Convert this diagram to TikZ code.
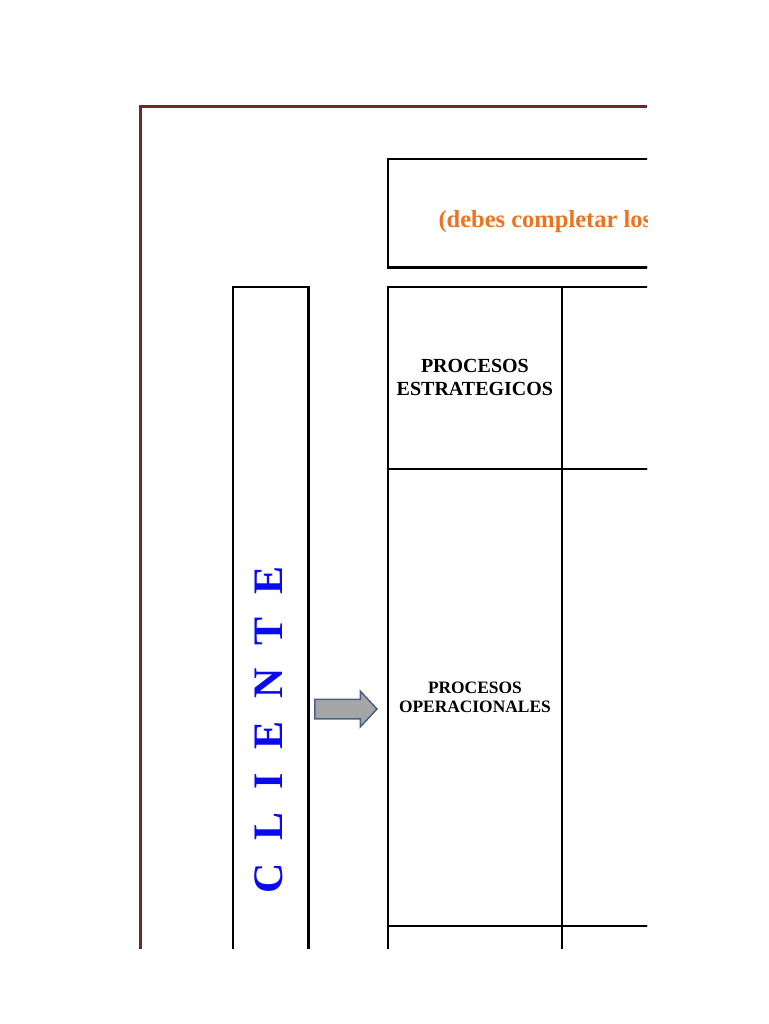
\documentclass[tikz,border=0pt]{standalone}
\usepackage{fontspec}
\setmainfont{Liberation Serif}
\usetikzlibrary{shapes.arrows}
\definecolor{frame}{HTML}{6B2B2B}
\definecolor{client}{HTML}{0A0AF0}
\definecolor{note}{HTML}{EC7420}
\definecolor{arrowfill}{HTML}{A6A6A6}
\definecolor{arrowline}{HTML}{4A6184}
\newcommand{\gap}{\hspace{23pt}}

\begin{document}
\begin{tikzpicture}[x=1pt,y=-1pt,
    cell/.style={draw,line width=1.8pt,anchor=north west,inner sep=0pt},
    proc/.style={font=\bfseries,align=center}]
  \useasboundingbox (0,0) rectangle (768,1024);
  \begin{scope}
  \clip (0,0) rectangle (647,948);

  % Outer frame
  \draw[frame,line width=3pt] (140,1000) -- (140,107) -- (800,107);

  % Title box
  \node[cell,minimum width=500,minimum height=108] (title) at (387,158) {};
  \draw[line width=3pt] (title.south west) -- (title.south east);
  \node[font=\fontsize{24.5}{29}\selectfont\bfseries,note,anchor=base west] (titletxt) at (435,228) {(debes completar los};

  % Client column
  \node[cell,minimum width=75,minimum height=700] (cliente) at (232,286) {};
  \draw[line width=2.6pt] (cliente.north east) -- (cliente.south east);
  \node[font=\fontsize{42}{46}\selectfont\bfseries,client,rotate=90] (clientetxt) at (269,730)
    {C\gap L\gap I\gap E\gap N\gap T\gap E};

  % Process table
  \node[cell,proc,minimum width=174,minimum height=182,font=\fontsize{20}{23}\selectfont\bfseries] (estr) at (387,286) {PROCESOS\\ESTRATEGICOS};
  \node[cell,minimum width=250,minimum height=182] (estrR) at (561,286) {};
  \node[cell,proc,minimum width=174,minimum height=457,font=\fontsize{17.4}{19.5}\selectfont\bfseries] (oper) at (387,468) {PROCESOS\\OPERACIONALES};
  \node[cell,minimum width=250,minimum height=457] (operR) at (561,468) {};
  \node[cell,minimum width=174,minimum height=100] (apoyo) at (387,925) {};
  \node[cell,minimum width=250,minimum height=100] (apoyoR) at (561,925) {};

  % Client to operations
  \node[single arrow,draw=arrowline,fill=arrowfill,line width=1.5pt,
        minimum width=34,minimum height=62,single arrow head extend=8,
        single arrow tip angle=94,inner xsep=0pt,inner ysep=9pt,anchor=tip] (flecha) at (378,709) {};
  \end{scope}
\end{tikzpicture}
\end{document}
